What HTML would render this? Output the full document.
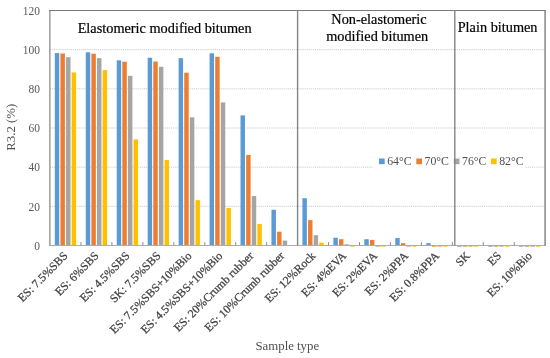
<!DOCTYPE html><html><head><meta charset="utf-8"><title>chart</title><style>html,body{margin:0;padding:0;background:#fff}svg{display:block}text{font-family:"Liberation Serif","Times New Roman",serif}</style></head><body>
<svg width="550" height="358" viewBox="0 0 550 358">
<rect width="550" height="358" fill="#fff"/>
<line x1="50.0" x2="545.2" y1="206.33" y2="206.33" stroke="#c6c6c6" stroke-width="1" stroke-dasharray="1 0.92"/>
<line x1="50.0" x2="545.2" y1="167.17" y2="167.17" stroke="#c6c6c6" stroke-width="1" stroke-dasharray="1 0.92"/>
<line x1="50.0" x2="545.2" y1="128.00" y2="128.00" stroke="#c6c6c6" stroke-width="1" stroke-dasharray="1 0.92"/>
<line x1="50.0" x2="545.2" y1="88.83" y2="88.83" stroke="#c6c6c6" stroke-width="1" stroke-dasharray="1 0.92"/>
<line x1="50.0" x2="545.2" y1="49.67" y2="49.67" stroke="#c6c6c6" stroke-width="1" stroke-dasharray="1 0.92"/>
<rect x="54.82" y="53.09" width="4.45" height="192.41" fill="#5b9bd5"/>
<rect x="60.44" y="53.48" width="4.45" height="192.02" fill="#ed7d31"/>
<rect x="66.06" y="57.20" width="4.45" height="188.30" fill="#a5a5a5"/>
<rect x="71.68" y="72.47" width="4.45" height="173.03" fill="#ffc000"/>
<rect x="85.77" y="52.30" width="4.45" height="193.20" fill="#5b9bd5"/>
<rect x="91.39" y="53.68" width="4.45" height="191.82" fill="#ed7d31"/>
<rect x="97.01" y="58.18" width="4.45" height="187.32" fill="#a5a5a5"/>
<rect x="102.63" y="70.12" width="4.45" height="175.38" fill="#ffc000"/>
<rect x="116.72" y="60.33" width="4.45" height="185.17" fill="#5b9bd5"/>
<rect x="122.34" y="61.70" width="4.45" height="183.80" fill="#ed7d31"/>
<rect x="127.96" y="75.80" width="4.45" height="169.70" fill="#a5a5a5"/>
<rect x="133.58" y="139.45" width="4.45" height="106.05" fill="#ffc000"/>
<rect x="147.67" y="57.79" width="4.45" height="187.71" fill="#5b9bd5"/>
<rect x="153.29" y="61.51" width="4.45" height="183.99" fill="#ed7d31"/>
<rect x="158.91" y="66.80" width="4.45" height="178.70" fill="#a5a5a5"/>
<rect x="164.53" y="160.01" width="4.45" height="85.49" fill="#ffc000"/>
<rect x="178.62" y="58.18" width="4.45" height="187.32" fill="#5b9bd5"/>
<rect x="184.24" y="72.67" width="4.45" height="172.83" fill="#ed7d31"/>
<rect x="189.86" y="117.32" width="4.45" height="128.18" fill="#a5a5a5"/>
<rect x="195.48" y="200.16" width="4.45" height="45.34" fill="#ffc000"/>
<rect x="209.57" y="53.28" width="4.45" height="192.22" fill="#5b9bd5"/>
<rect x="215.19" y="56.81" width="4.45" height="188.69" fill="#ed7d31"/>
<rect x="220.81" y="102.44" width="4.45" height="143.06" fill="#a5a5a5"/>
<rect x="226.43" y="207.99" width="4.45" height="37.51" fill="#ffc000"/>
<rect x="240.52" y="115.36" width="4.45" height="130.14" fill="#5b9bd5"/>
<rect x="246.14" y="154.92" width="4.45" height="90.58" fill="#ed7d31"/>
<rect x="251.76" y="196.05" width="4.45" height="49.45" fill="#a5a5a5"/>
<rect x="257.38" y="224.05" width="4.45" height="21.45" fill="#ffc000"/>
<rect x="271.47" y="209.75" width="4.45" height="35.75" fill="#5b9bd5"/>
<rect x="277.09" y="231.69" width="4.45" height="13.81" fill="#ed7d31"/>
<rect x="282.71" y="240.60" width="4.45" height="4.90" fill="#a5a5a5"/>
<rect x="302.42" y="198.20" width="4.45" height="47.30" fill="#5b9bd5"/>
<rect x="308.04" y="220.13" width="4.45" height="25.37" fill="#ed7d31"/>
<rect x="313.66" y="235.21" width="4.45" height="10.29" fill="#a5a5a5"/>
<rect x="319.28" y="242.56" width="4.45" height="2.94" fill="#ffc000"/>
<rect x="333.37" y="237.67" width="4.45" height="7.83" fill="#5b9bd5"/>
<rect x="338.99" y="239.23" width="4.45" height="6.27" fill="#ed7d31"/>
<rect x="344.61" y="244.32" width="4.45" height="1.17" fill="#a5a5a5"/>
<rect x="350.23" y="245.90" width="4.45" height="1.0" fill="#ffc000" opacity="0.7"/>
<rect x="364.32" y="239.23" width="4.45" height="6.27" fill="#5b9bd5"/>
<rect x="369.94" y="239.92" width="4.45" height="5.58" fill="#ed7d31"/>
<rect x="375.56" y="245.90" width="4.45" height="1.0" fill="#a5a5a5" opacity="0.7"/>
<rect x="381.18" y="245.90" width="4.45" height="1.0" fill="#ffc000" opacity="0.7"/>
<rect x="395.27" y="238.06" width="4.45" height="7.44" fill="#5b9bd5"/>
<rect x="400.89" y="243.15" width="4.45" height="2.35" fill="#ed7d31"/>
<rect x="406.51" y="245.90" width="4.45" height="1.0" fill="#a5a5a5" opacity="0.7"/>
<rect x="412.13" y="245.90" width="4.45" height="1.0" fill="#ffc000" opacity="0.7"/>
<rect x="426.22" y="243.15" width="4.45" height="2.35" fill="#5b9bd5"/>
<rect x="431.84" y="245.90" width="4.45" height="1.0" fill="#ed7d31" opacity="0.7"/>
<rect x="437.46" y="245.90" width="4.45" height="1.0" fill="#a5a5a5" opacity="0.7"/>
<rect x="443.08" y="245.90" width="4.45" height="1.0" fill="#ffc000" opacity="0.7"/>
<rect x="457.17" y="245.90" width="4.45" height="1.0" fill="#5b9bd5" opacity="0.7"/>
<rect x="462.79" y="245.90" width="4.45" height="1.0" fill="#ed7d31" opacity="0.7"/>
<rect x="468.41" y="245.90" width="4.45" height="1.0" fill="#a5a5a5" opacity="0.7"/>
<rect x="474.03" y="245.90" width="4.45" height="1.0" fill="#ffc000" opacity="0.7"/>
<rect x="488.12" y="245.90" width="4.45" height="1.0" fill="#5b9bd5" opacity="0.7"/>
<rect x="493.74" y="245.90" width="4.45" height="1.0" fill="#ed7d31" opacity="0.7"/>
<rect x="499.36" y="245.90" width="4.45" height="1.0" fill="#a5a5a5" opacity="0.7"/>
<rect x="504.98" y="245.90" width="4.45" height="1.0" fill="#ffc000" opacity="0.7"/>
<rect x="519.07" y="245.90" width="4.45" height="1.0" fill="#5b9bd5" opacity="0.7"/>
<rect x="524.69" y="245.90" width="4.45" height="1.0" fill="#ed7d31" opacity="0.7"/>
<rect x="530.31" y="245.90" width="4.45" height="1.0" fill="#a5a5a5" opacity="0.7"/>
<rect x="535.93" y="245.90" width="4.45" height="1.0" fill="#ffc000" opacity="0.7"/>
<rect x="373" y="153" width="151.8" height="19" fill="#fff"/>
<rect x="379.0" y="158.5" width="5.7" height="5.7" fill="#5b9bd5"/>
<text x="387.2" y="165.1" font-size="11.8" fill="#505050">64°C</text>
<rect x="416.3" y="158.5" width="5.7" height="5.7" fill="#ed7d31"/>
<text x="424.5" y="165.1" font-size="11.8" fill="#505050">70°C</text>
<rect x="453.8" y="158.5" width="5.7" height="5.7" fill="#a5a5a5"/>
<text x="462.0" y="165.1" font-size="11.8" fill="#505050">76°C</text>
<rect x="491.0" y="158.5" width="5.7" height="5.7" fill="#ffc000"/>
<text x="499.2" y="165.1" font-size="11.8" fill="#505050">82°C</text>
<line x1="50.0" x2="545.2" y1="245.5" y2="245.5" stroke="#adadad" stroke-width="1.2"/>
<line x1="80.95" x2="80.95" y1="242.1" y2="245.5" stroke="#8c8c8c" stroke-width="1"/>
<line x1="111.90" x2="111.90" y1="242.1" y2="245.5" stroke="#8c8c8c" stroke-width="1"/>
<line x1="142.85" x2="142.85" y1="242.1" y2="245.5" stroke="#8c8c8c" stroke-width="1"/>
<line x1="173.80" x2="173.80" y1="242.1" y2="245.5" stroke="#8c8c8c" stroke-width="1"/>
<line x1="204.75" x2="204.75" y1="242.1" y2="245.5" stroke="#8c8c8c" stroke-width="1"/>
<line x1="235.70" x2="235.70" y1="242.1" y2="245.5" stroke="#8c8c8c" stroke-width="1"/>
<line x1="266.65" x2="266.65" y1="242.1" y2="245.5" stroke="#8c8c8c" stroke-width="1"/>
<line x1="297.60" x2="297.60" y1="242.1" y2="245.5" stroke="#8c8c8c" stroke-width="1"/>
<line x1="328.55" x2="328.55" y1="242.1" y2="245.5" stroke="#8c8c8c" stroke-width="1"/>
<line x1="359.50" x2="359.50" y1="242.1" y2="245.5" stroke="#8c8c8c" stroke-width="1"/>
<line x1="390.45" x2="390.45" y1="242.1" y2="245.5" stroke="#8c8c8c" stroke-width="1"/>
<line x1="421.40" x2="421.40" y1="242.1" y2="245.5" stroke="#8c8c8c" stroke-width="1"/>
<line x1="452.35" x2="452.35" y1="242.1" y2="245.5" stroke="#8c8c8c" stroke-width="1"/>
<line x1="483.30" x2="483.30" y1="242.1" y2="245.5" stroke="#8c8c8c" stroke-width="1"/>
<line x1="514.25" x2="514.25" y1="242.1" y2="245.5" stroke="#8c8c8c" stroke-width="1"/>
<line x1="49.85" x2="49.85" y1="10.0" y2="246.1" stroke="#9c9c9c" stroke-width="1.5"/>
<line x1="545.1" x2="545.1" y1="10.0" y2="246.1" stroke="#8e8e8e" stroke-width="1.6"/>
<line x1="49.1" x2="545.9" y1="10.5" y2="10.5" stroke="#787878" stroke-width="1"/>
<line x1="297.6" x2="297.6" y1="10.5" y2="245.5" stroke="#858585" stroke-width="1.4"/>
<line x1="454.8" x2="454.8" y1="10.5" y2="245.5" stroke="#858585" stroke-width="1.4"/>
<text x="40" y="249.70" font-size="11.5" fill="#595959" text-anchor="end">0</text>
<text x="40" y="210.53" font-size="11.5" fill="#595959" text-anchor="end">20</text>
<text x="40" y="171.37" font-size="11.5" fill="#595959" text-anchor="end">40</text>
<text x="40" y="132.20" font-size="11.5" fill="#595959" text-anchor="end">60</text>
<text x="40" y="93.03" font-size="11.5" fill="#595959" text-anchor="end">80</text>
<text x="40" y="53.87" font-size="11.5" fill="#595959" text-anchor="end">100</text>
<text x="40" y="14.70" font-size="11.5" fill="#595959" text-anchor="end">120</text>
<text transform="translate(68.47 256.50) rotate(-45)" font-size="11.7" fill="#404040" stroke="#404040" stroke-width="0.25" text-anchor="end">ES: 7.5%SBS</text>
<text transform="translate(99.43 256.50) rotate(-45)" font-size="11.7" fill="#404040" stroke="#404040" stroke-width="0.25" text-anchor="end">ES: 6%SBS</text>
<text transform="translate(130.38 256.50) rotate(-45)" font-size="11.7" fill="#404040" stroke="#404040" stroke-width="0.25" text-anchor="end">ES: 4.5%SBS</text>
<text transform="translate(161.33 256.50) rotate(-45)" font-size="11.7" fill="#404040" stroke="#404040" stroke-width="0.25" text-anchor="end">SK: 7.5%SBS</text>
<text transform="translate(192.28 256.50) rotate(-45)" font-size="11.7" fill="#404040" stroke="#404040" stroke-width="0.25" text-anchor="end">ES: 7.5%SBS+10%Bio</text>
<text transform="translate(223.23 256.50) rotate(-45)" font-size="11.7" fill="#404040" stroke="#404040" stroke-width="0.25" text-anchor="end">ES: 4.5%SBS+10%Bio</text>
<text transform="translate(254.18 256.50) rotate(-45)" font-size="11.7" fill="#404040" stroke="#404040" stroke-width="0.25" text-anchor="end">ES: 20%Crumb rubber</text>
<text transform="translate(285.12 256.50) rotate(-45)" font-size="11.7" fill="#404040" stroke="#404040" stroke-width="0.25" text-anchor="end">ES: 10%Crumb rubber</text>
<text transform="translate(316.08 256.50) rotate(-45)" font-size="11.7" fill="#404040" stroke="#404040" stroke-width="0.25" text-anchor="end">ES: 12%Rock</text>
<text transform="translate(347.03 256.50) rotate(-45)" font-size="11.7" fill="#404040" stroke="#404040" stroke-width="0.25" text-anchor="end">ES: 4%EVA</text>
<text transform="translate(377.98 256.50) rotate(-45)" font-size="11.7" fill="#404040" stroke="#404040" stroke-width="0.25" text-anchor="end">ES: 2%EVA</text>
<text transform="translate(408.93 256.50) rotate(-45)" font-size="11.7" fill="#404040" stroke="#404040" stroke-width="0.25" text-anchor="end">ES: 2%PPA</text>
<text transform="translate(439.88 256.50) rotate(-45)" font-size="11.7" fill="#404040" stroke="#404040" stroke-width="0.25" text-anchor="end">ES: 0.8%PPA</text>
<text transform="translate(470.83 256.50) rotate(-45)" font-size="11.7" fill="#404040" stroke="#404040" stroke-width="0.25" text-anchor="end">SK</text>
<text transform="translate(501.78 256.50) rotate(-45)" font-size="11.7" fill="#404040" stroke="#404040" stroke-width="0.25" text-anchor="end">ES</text>
<text transform="translate(532.73 256.50) rotate(-45)" font-size="11.7" fill="#404040" stroke="#404040" stroke-width="0.25" text-anchor="end">ES: 10%Bio</text>
<text x="287.3" y="350" font-size="12.8" fill="#505050" text-anchor="middle">Sample type</text>
<text transform="translate(15.2 127.3) rotate(-90)" font-size="12.8" fill="#505050" text-anchor="middle">R3.2 (%)</text>
<text x="164.6" y="32.8" font-size="14.3" fill="#000" stroke="#000" stroke-width="0.2" text-anchor="middle">Elastomeric modified bitumen</text>
<text x="379" y="24.4" font-size="14.3" fill="#000" stroke="#000" stroke-width="0.2" text-anchor="middle">Non-elastomeric</text>
<text x="377.2" y="40.8" font-size="14.3" fill="#000" stroke="#000" stroke-width="0.2" text-anchor="middle">modified bitumen</text>
<text x="497.6" y="32.1" font-size="14.3" fill="#000" stroke="#000" stroke-width="0.2" text-anchor="middle">Plain bitumen</text>
</svg></body></html>
